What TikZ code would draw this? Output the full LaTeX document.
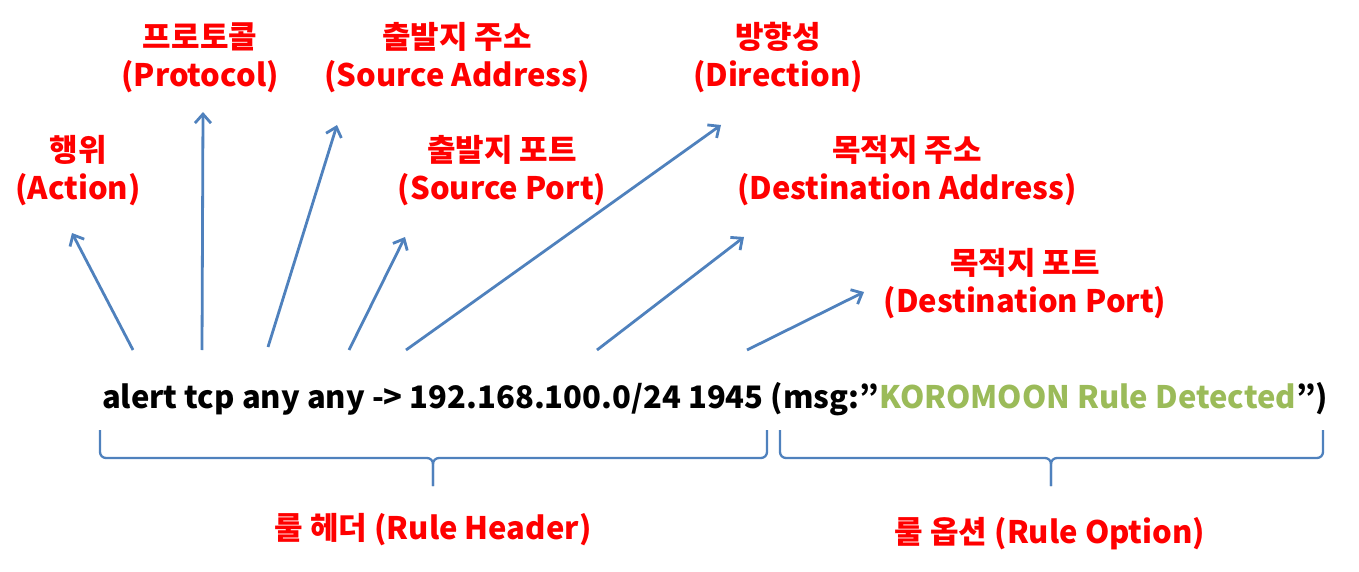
\documentclass[tikz,border=0pt]{standalone}
\usepackage{fontspec}
\setmainfont{Noto Sans CJK KR}
\usetikzlibrary{arrows.meta}
\definecolor{arrowblue}{HTML}{4F81BD}
\definecolor{msggreen}{HTML}{9BBB59}
\definecolor{labelred}{HTML}{FF0000}
\begin{document}
\begin{tikzpicture}[x=1pt, y=-1pt,
                    label node/.style={align=center, text=labelred, font=\bfseries\fontsize{31}{38}\selectfont},
                    pointer/.style={draw=arrowblue, line width=2.8pt, -{Straight Barb[length=9pt, width=16pt, line width=2.8pt]}},
                    brace line/.style={draw=arrowblue, line width=2.3pt, rounded corners=6pt}]
    \useasboundingbox (0,0) rectangle (1359,572);

    % labels
    \node[label node] (action)    at (78,171)   {행위\\(Action)};
    \node[label node] (protocol)  at (200,58)   {프로토콜\\(Protocol)};
    \node[label node] (srcaddr)   at (457,58)   {출발지 주소\\(Source Address)};
    \node[label node] (srcport)   at (502,171)  {출발지 포트\\(Source Port)};
    \node[label node] (direction) at (778,58)   {방향성\\(Direction)};
    \node[label node] (dstaddr)   at (907,171)  {목적지 주소\\(Destination Address)};
    \node[label node] (dstport)   at (1025,284) {목적지 포트\\(Destination Port)};

    % the rule
    \node[font=\bfseries\fontsize{31}{36}\selectfont] (rule) at (715,399)
        {alert tcp any any -> 192.168.100.0/24 1945 (msg:”\textcolor{msggreen}{KOROMOON Rule Detected}”)};

    \node[label node] (header) at (433,530) {룰 헤더 (Rule Header)};
    \node[label node] (option) at (1050,534) {룰 옵션 (Rule Option)};

    % arrow ends
    \coordinate (a1) at (133,350);  \coordinate (t1) at (72,233);
    \coordinate (a2) at (202,350);  \coordinate (t2) at (203,112);
    \coordinate (a3) at (268,347);  \coordinate (t3) at (337,125);
    \coordinate (a4) at (349,350);  \coordinate (t4) at (405,237);
    \coordinate (a5) at (406,350);  \coordinate (t5) at (721,125);
    \coordinate (a6) at (597,350);  \coordinate (t6) at (744,237);
    \coordinate (a7) at (747,350);  \coordinate (t7) at (864,292);

    \foreach \i in {1,...,7}
        \draw[pointer] (a\i) -- (t\i);

    % braces
    \coordinate (hl) at (100,430);  \coordinate (hr) at (767,430);
    \coordinate (ht) at (433,486);
    \coordinate (ol) at (780,430);  \coordinate (or) at (1323,430);
    \coordinate (ot) at (1051,486);
    \draw[brace line] (hl) |- (433,458) -- (ht);
    \draw[brace line] (hr) |- (433,458) -- (ht);
    \draw[brace line] (ol) |- (1051,458) -- (ot);
    \draw[brace line] (or) |- (1051,458) -- (ot);
\end{tikzpicture}
\end{document}
